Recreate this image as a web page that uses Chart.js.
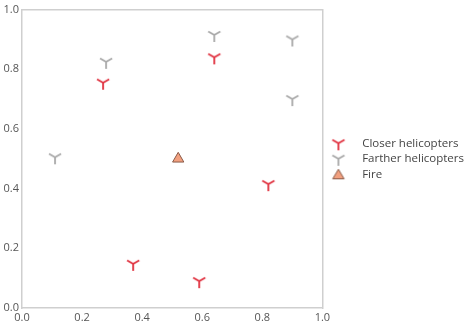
<!DOCTYPE html>
<html><head><meta charset="utf-8">
<script src="https://cdn.jsdelivr.net/npm/chart.js@4"></script>
<style>html,body{margin:0;padding:0;background:#fff}#wrap{width:474px;height:326px;position:relative}</style>
</head><body><div id="wrap"><canvas id="c"></canvas></div>
<script>
const seriesNames = ["Closer helicopters", "Farther helicopters", "Fire"];
const closerX = [0.27, 0.64, 0.82, 0.37, 0.59];
const closerY = [0.755, 0.84, 0.415, 0.148, 0.09];
const fartherX = [0.28, 0.64, 0.90, 0.90, 0.11];
const fartherY = [0.825, 0.915, 0.90, 0.70, 0.505];
const fireX = [0.52];
const fireY = [0.50];
const tickStep = 0.2;

const RED = '#e0303e', GRAY = '#a9a9a9', FIRE = '#f2a07f', FIRE_EDGE = '#8a5a48';

function pts(xs, ys){ return xs.map((x,i)=>({x:x, y:ys[i]})); }
function triDown(color, w, cx){
  const c=document.createElement('canvas'); c.width=w; c.height=16;
  const g=c.getContext('2d'); g.strokeStyle=color; g.lineWidth=1.8;
  const r=7, cy=8;
  g.beginPath();
  g.moveTo(cx,cy); g.lineTo(cx,cy+r);
  g.moveTo(cx,cy); g.lineTo(cx-0.866*r,cy-0.5*r);
  g.moveTo(cx,cy); g.lineTo(cx+0.866*r,cy-0.5*r);
  g.stroke();
  return c;
}
function triUp(w, cx){
  const c=document.createElement('canvas'); c.width=w; c.height=16;
  const g=c.getContext('2d'); g.fillStyle=FIRE; g.strokeStyle=FIRE_EDGE; g.lineWidth=1;
  const r=6, cy=9;
  g.beginPath();
  g.moveTo(cx, cy-r); g.lineTo(cx+0.866*r+0.5, cy+0.5*r+0.5); g.lineTo(cx-0.866*r-0.5, cy+0.5*r+0.5); g.closePath();
  g.fill(); g.stroke();
  return c;
}
const redY = triDown(RED, 16, 8);
const grayY = triDown(GRAY, 16, 8);
const legendImgs = [triDown(RED, 24, 8), triDown(GRAY, 24, 8), triUp(24, 8)];
const FONT = {family:'"Open Sans", sans-serif', size:11};
const axisBorder = {color:'#cfcfcf', width:1.5};

new Chart(document.getElementById('c'), {
  type:'scatter',
  data:{datasets:[
    {label:seriesNames[0], data:pts(closerX,closerY), pointStyle:redY, pointRadius:7, backgroundColor:RED, borderColor:RED},
    {label:seriesNames[1], data:pts(fartherX,fartherY), pointStyle:grayY, pointRadius:7, backgroundColor:GRAY, borderColor:GRAY},
    {label:seriesNames[2], data:pts(fireX,fireY), pointStyle:'triangle', pointRadius:6.5, backgroundColor:FIRE, borderColor:FIRE_EDGE, borderWidth:1}
  ]},
  options:{
    responsive:true, maintainAspectRatio:false, animation:false,
    layout:{padding:0},
    plugins:{
      tooltip:{enabled:false},
      legend:{position:'right', align:'center', maxWidth:152, fullSize:false,
        labels:{usePointStyle:true, pointStyleWidth:28, font:{family:'"Open Sans", sans-serif', size:11.5}, color:'#444', padding:4, boxHeight:12,
          generateLabels:(chart)=>{
            const items = Chart.defaults.plugins.legend.labels.generateLabels(chart);
            items.forEach((it,i)=>{ it.pointStyle = legendImgs[i]; });
            return items;
          }}}
    },
    scales:{
      x:{type:'linear', position:'bottom', min:0, max:1,
        grid:{display:false, drawTicks:false}, border:axisBorder,
        ticks:{stepSize:tickStep, font:FONT, color:'#555', padding:3, callback:v=>Number(v).toFixed(1)},
        afterFit:s=>{s.height=18;}},
      y:{type:'linear', position:'left', min:0, max:1,
        grid:{display:false, drawTicks:false}, border:axisBorder,
        ticks:{stepSize:tickStep, font:FONT, color:'#555', padding:3, callback:v=>Number(v).toFixed(1)},
        afterFit:s=>{s.width=22;}},
      x2:{type:'linear', position:'top', min:0, max:1, grid:{display:false, drawTicks:false}, border:axisBorder,
        ticks:{display:false}, afterFit:s=>{s.height=8;}},
      y2:{type:'linear', position:'right', min:0, max:1, grid:{display:false, drawTicks:false}, border:axisBorder,
        ticks:{display:false}, afterFit:s=>{s.width=2;}}
    }
  }
});
</script></body></html>
